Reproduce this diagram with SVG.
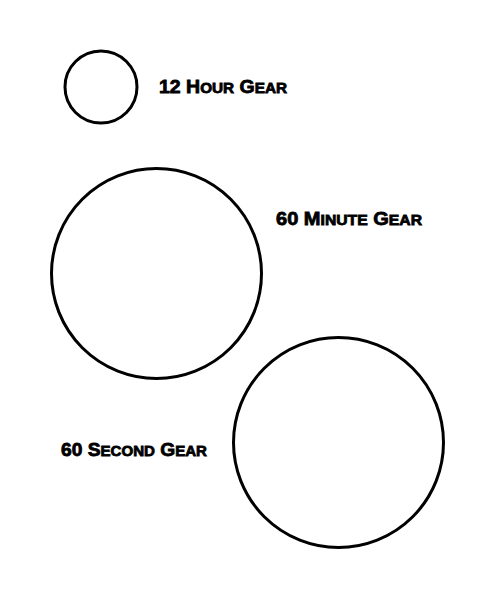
<svg xmlns="http://www.w3.org/2000/svg" width="480" height="600" viewBox="0 0 480 600">
<style>
.gear{fill:none;stroke:#000;stroke-width:3}
.lbl{font-family:"Liberation Sans",Arial,sans-serif;font-weight:bold;font-size:18.5px;fill:#000;stroke:#000;stroke-width:0.8}
.sc{font-size:14.5px}
</style>
<rect width="480" height="600" fill="#fff"/>
<g id="hour-gear">
<circle class="gear" cx="101" cy="87" r="36"/>
<text class="lbl" x="159" y="92.5" textLength="128" lengthAdjust="spacingAndGlyphs">12 H<tspan class="sc">OUR</tspan> G<tspan class="sc">EAR</tspan></text>
</g>
<g id="minute-gear">
<circle class="gear" cx="156.5" cy="273.5" r="105"/>
<text class="lbl" x="276" y="225" textLength="146" lengthAdjust="spacingAndGlyphs">60 M<tspan class="sc">INUTE</tspan> G<tspan class="sc">EAR</tspan></text>
</g>
<g id="second-gear">
<circle class="gear" cx="338.5" cy="442.5" r="105"/>
<text class="lbl" x="61" y="456" textLength="146" lengthAdjust="spacingAndGlyphs">60 S<tspan class="sc">ECOND</tspan> G<tspan class="sc">EAR</tspan></text>
</g>
<g id="connectors"/>
</svg>
